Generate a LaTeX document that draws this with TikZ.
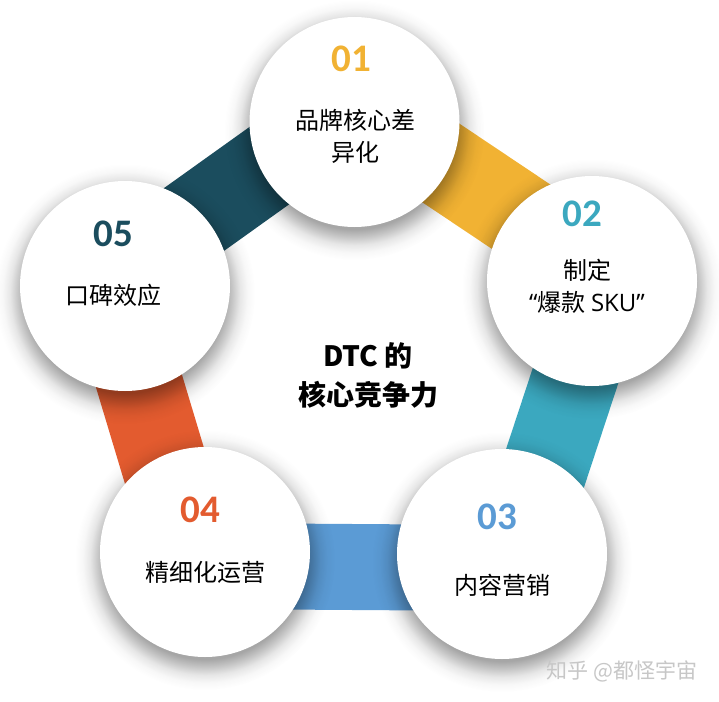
\documentclass[tikz,border=0pt]{standalone}
\usepackage{fontspec}
\newfontfamily\cjk{Noto Sans CJK SC}
\newfontfamily\numf{Carlito}
\newfontfamily\latf{Open Sans}
\usetikzlibrary{calc,fadings}
\definecolor{cdark}{HTML}{1B4D5E}
\definecolor{cyel}{HTML}{F1B233}
\definecolor{cteal}{HTML}{3BA8BF}
\definecolor{cblue}{HTML}{5B9BD5}
\definecolor{corg}{HTML}{E35B2F}
\pgfdeclareradialshading{shfadeshade}{\pgfpointorigin}{color(0bp)=(pgftransparent!0); color(19bp)=(pgftransparent!0); color(20.5bp)=(pgftransparent!35); color(22bp)=(pgftransparent!72); color(23.5bp)=(pgftransparent!92); color(25bp)=(pgftransparent!100); color(50bp)=(pgftransparent!100)}
\pgfdeclarefading{shfade}{\pgfuseshading{shfadeshade}}
\newcommand\drawband[3]{\fill[#3] ($(#1)!57pt!90:(#2)$) -- ($(#2)!57pt!-90:(#1)$) -- ($(#2)!29pt!90:(#1)$) -- ($(#1)!29pt!-90:(#2)$) -- cycle;}
\newcommand\drawshadow[1]{\fill[black, opacity=0.35, path fading=shfade] ($(#1)+(0,8)$) circle (130pt);}
\tikzset{
  circ/.style={circle, fill=white, minimum size=210pt, inner sep=0pt},
  numtxt/.style={font=\numf\bfseries\fontsize{39pt}{39pt}\selectfont, inner sep=0pt},
  lbl/.style={font=\cjk\fontsize{24pt}{32pt}\selectfont, align=center, inner sep=0pt, text=black},
}
\begin{document}
\begin{tikzpicture}[x=1pt,y=-1pt]
\useasboundingbox[fill=white] (0,0) rectangle (719,701);
\coordinate (p1) at (354.5,122);
\coordinate (p2) at (592,281);
\coordinate (p3) at (502,554);
\coordinate (p4) at (205,552);
\coordinate (p5) at (125,286);
\drawband{p1}{p2}{cyel}
\drawband{p2}{p3}{cteal}
\drawband{p3}{p4}{cblue}
\drawband{p4}{p5}{corg}
\drawband{p5}{p1}{cdark}
\drawshadow{p1}
\drawshadow{p2}
\drawshadow{p3}
\drawshadow{p4}
\drawshadow{p5}
\node[circ] (c1) at (p1) {};
\node[circ] (c2) at (p2) {};
\node[circ] (c3) at (p3) {};
\node[circ] (c4) at (p4) {};
\node[circ] (c5) at (p5) {};
\node[numtxt, text=cyel] (n1) at (351,59) {01};
\node[numtxt, text=cteal] (n2) at (582,214) {02};
\node[numtxt, text=cblue] (n3) at (497.5,517) {03};
\node[numtxt, text=corg] (n4) at (200.5,510) {04};
\node[numtxt, text=cdark] (n5) at (113,234) {05};
\node[lbl] (l1) at (355,136) {品牌核心差\\异化};
\node[lbl] (l2) at (587,286) {制定\\{\latf “}爆款 {\latf SKU”}};
\node[lbl] (l3) at (502.5,585) {内容营销};
\node[lbl] (l4) at (205.5,572) {精细化运营};
\node[lbl] (l5) at (113.5,295) {口碑效应};
\node[font=\cjk\bfseries\fontsize{28pt}{39pt}\selectfont, align=center, inner sep=0pt] (ctr) at (368,375.5) {DTC 的\\核心竞争力};
\node[font=\cjk\fontsize{21pt}{21pt}\selectfont, text=black!22, inner sep=0pt] (wm) at (622,671) {知乎 @都怪宇宙};
\end{tikzpicture}
\end{document}
